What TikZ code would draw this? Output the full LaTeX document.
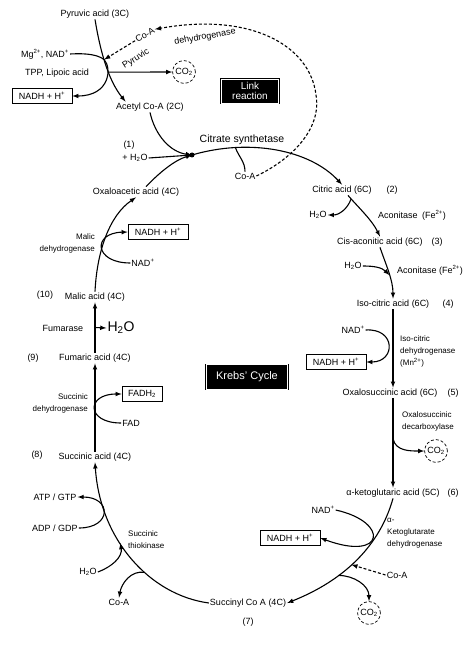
\documentclass[tikz,border=0pt]{standalone}
\usepackage{fontspec}
\setmainfont{Liberation Sans}
\usetikzlibrary{calc}

\begin{document}
\begin{tikzpicture}[x=1pt,y=1pt,
    every node/.style={font=\fontsize{9}{11}\selectfont,inner sep=1pt},
    enzyme/.style={align=left,font=\fontsize{8}{12}\selectfont},
    boxed/.style={draw,line width=0.7pt,minimum width=60pt,minimum height=15pt},
    gas/.style={circle,draw,densely dashed,line width=0.7pt,inner sep=1.5pt},
    title/.style={fill=black,text=white,draw=black,double=white,double distance=0.8pt,line width=0.8pt,align=center},
    flow/.style={line width=1.1pt,-latex},
    recycle/.style={flow,dash pattern=on 3pt off 2pt}]
\useasboundingbox (0,0) rectangle (474,-647);

% link reaction
\node (pyr) at (95,-14) {Pyruvic acid (3C)};
\node (mg) at (45,-54) {Mg\textsuperscript{2+}, NAD\textsuperscript{+}};
\node (tpp) at (57,-73) {TPP, Lipoic acid};
\node[boxed] (nadhA) at (42,-96) {NADH + H\textsuperscript{+}};
\node[gas] (co2A) at (184,-72) {CO\textsubscript{2}};
\node[rotate=30] (coaA) at (145,-35) {Co-A};
\node[rotate=32] (pdhA) at (136,-59) {Pyruvic};
\node[rotate=10] (pdhB) at (205,-37) {dehydrogenase};
\node[title,font=\fontsize{10}{10.5}\selectfont,inner xsep=11pt,inner ysep=3pt] (link) at (250,-91) {Link\\reaction};
\node (acetyl) at (150,-107) {Acetyl Co-A (2C)};

\draw[flow] (pyr.south) .. controls (100,-50) and (108,-80) .. ($(acetyl.north west)!0.15!(acetyl.north east)$)
    coordinate[pos=0.45] (lkA) coordinate[pos=0.6] (lkB);
\draw[flow] (mg.east) .. controls (88,-53) and (98,-55) .. (lkA) .. controls (112,-68) and (110,-96) .. (nadhA.east);
\draw[flow] (lkB) -- (co2A.west);
\draw[recycle] (coaA.west) -- (lkA);

% citrate synthetase
\node (n1) at (129,-145) {(1)};
\node (h2oA) at (135,-158) {+ H\textsubscript{2}O};
\coordinate (cs) at (192,-155);
\node[font=\fontsize{10.5}{12}\selectfont] (cst) at (242,-140) {Citrate synthetase};
\node (oaa) at (136,-192) {Oxaloacetic acid (4C)};
\node (coaB) at (245,-176) {Co-A};
\node (citric) at (342,-190) {Citric acid (6C)};
\node (n2) at (392,-190) {(2)};

\draw[flow] (acetyl.south) .. controls (155,-135) and (170,-152) .. (cs);
\draw[flow] (h2oA.east) -- (cs);
\draw[flow] ($(oaa.north)+(10,0)$) .. controls (160,-172) and (175,-160) .. (cs);
\fill (cs) circle (2.5);
\draw[flow] (cs) .. controls (250,-138) and (310,-150) .. (citric.north) coordinate[pos=0.25] (csB);
\draw[line width=1.1pt] (csB) to[out=-70,in=90] (coaB.north);
\draw[recycle] (coaB.east) .. controls (290,-160) and (322,-130) .. (316,-95)
    .. controls (310,-45) and (250,-12) .. (coaA.east);

% right half
\node (h2oB) at (318,-215) {H\textsubscript{2}O};
\node (aconA) at (412,-215) {Aconitase\enspace(Fe\textsuperscript{2+})};
\node (cisac) at (380,-242) {Cis-aconitic acid (6C)};
\node (n3) at (437,-242) {(3)};
\node (h2oC) at (353,-266) {H\textsubscript{2}O};
\node (aconB) at (430,-270) {Aconitase (Fe\textsuperscript{2+})};
\node (isoc) at (393,-304) {Iso-citric acid (6C)};
\node (n4) at (448,-304) {(4)};
\node (nadB) at (353,-330) {NAD\textsuperscript{+}};
\node[boxed] (nadhB) at (336,-362) {NADH + H\textsuperscript{+}};
\node[enzyme,anchor=west] (idh) at (399,-351) {Iso-citric\\dehydrogenase\\(Mn\textsuperscript{2+})};
\node (oxs) at (390,-393) {Oxalosuccinic acid (6C)};
\node (n5) at (453,-393) {(5)};
\node[enzyme,anchor=west] (oxd) at (401,-421) {Oxalosuccinic\\decarboxylase};
\node[gas] (co2B) at (436,-451) {CO\textsubscript{2}};
\node (akg) at (393,-493) {α-ketoglutaric acid (5C)};
\node (n6) at (453,-493) {(6)};
\node[enzyme,anchor=west] (kgdh) at (386,-533) {α-\\Ketoglutarate\\dehydrogenase};
\node (nadC) at (323,-510) {NAD\textsuperscript{+}};
\node[boxed] (nadhC) at (290,-538) {NADH + H\textsuperscript{+}};
\node (coaC) at (397,-575) {Co-A};
\node[gas] (co2C) at (369,-613) {CO\textsubscript{2}};
\node (succ) at (248,-603) {Succinyl Co A (4C)};
\node (n7) at (248,-622) {(7)};

\draw[flow] ($(citric.south)+(6,0)$) .. controls (358,-207) and (372,-220) .. (cisac.north) coordinate[pos=0.1] (ctA);
\draw[flow] (ctA) to[out=-110,in=0] (h2oB.east);
\draw[flow] (cisac.south) .. controls (386,-265) and (393,-280) .. (isoc.north) coordinate[pos=0.55] (ctB);
\draw[flow] (h2oC.east) to[out=0,in=135] (ctB);
\draw[flow] (isoc.south) -- (isoc.south |- oxs.north);
\draw[flow] (nadB.east) .. controls (396,-328) and (396,-362) .. (nadhB.east);
\draw[flow] (oxs.south -| isoc.south) -- (isoc.south |- akg.north) coordinate[pos=0.45] (oxA);
\draw[flow] (oxA) to[out=-80,in=180] (co2B.west);
\draw[flow] (akg.south) .. controls (380,-545) and (345,-580) .. (succ.east)
    coordinate[pos=0.55] (kgA) coordinate[pos=0.66] (kgB);
\draw[flow] (nadC.east) .. controls (390,-522) and (385,-562) .. (nadhC.east);
\draw[recycle] (coaC.west) -- (kgA);
\draw[flow] (kgB) to[out=0,in=90] (co2C.north);

% left half
\node (sca) at (95,-457) {Succinic acid (4C)};
\node (n8) at (37,-455) {(8)};
\node (atp) at (55,-497) {ATP / GTP};
\node (adp) at (55,-528) {ADP / GDP};
\node[enzyme,anchor=west] (stk) at (127,-540) {Succinic\\thiokinase};
\node (h2oD) at (88,-572) {H\textsubscript{2}O};
\node (coaD) at (119,-602) {Co-A};
\node (fum) at (95,-358) {Fumaric acid (4C)};
\node (n9) at (33,-358) {(9)};
\node[boxed,minimum width=40pt] (fadh) at (142,-394) {FADH\textsubscript{2}};
\node (fad) at (131,-423) {FAD};
\node[enzyme,align=right,anchor=east] (sdh) at (89,-403) {Succinic\\dehydrogenase};
\node (fumase) at (63,-328) {Fumarase};
\node[font=\fontsize{14}{16}\selectfont] (h2oE) at (121,-328) {H\textsubscript{2}O};
\node (mal) at (95,-297) {Malic acid (4C)};
\node (n10) at (45,-295) {(10)};
\node[enzyme,align=right,anchor=east] (mdh) at (96,-243) {Malic\\dehydrogenase};
\node[boxed] (nadhD) at (158,-232) {NADH + H\textsuperscript{+}};
\node (nadD) at (143,-263) {NAD\textsuperscript{+}};
\node[title,font=\fontsize{11}{13}\selectfont,inner xsep=10pt,inner ysep=7pt] (kc) at (247,-377) {Krebs' Cycle};

\draw[flow] (succ.west) .. controls (150,-595) and (100,-540) .. (sca.south)
    coordinate[pos=0.4] (scC) coordinate[pos=0.6] (scB);
\draw[flow] (adp.east) .. controls (112,-528) and (112,-497) .. (atp.east);
\draw[flow] (h2oD.east) to[out=20,in=-80] (scB);
\draw[flow] (scC) to[out=170,in=80] (coaD.north);
\draw[flow] (sca.north) -- (fum.south);
\draw[flow] (fad.west) .. controls (86,-423) and (86,-394) .. (fadh.west);
\draw[flow] (fum.north) -- (mal.south) coordinate[pos=0.5] (fmA);
\draw[flow] (fmA) -- (h2oE.west);
\draw[flow] (mal.north) .. controls (97,-250) and (110,-215) .. (oaa.south);
\draw[flow] (nadD.west) .. controls (94,-263) and (92,-233) .. (nadhD.west);
\end{tikzpicture}
\end{document}
